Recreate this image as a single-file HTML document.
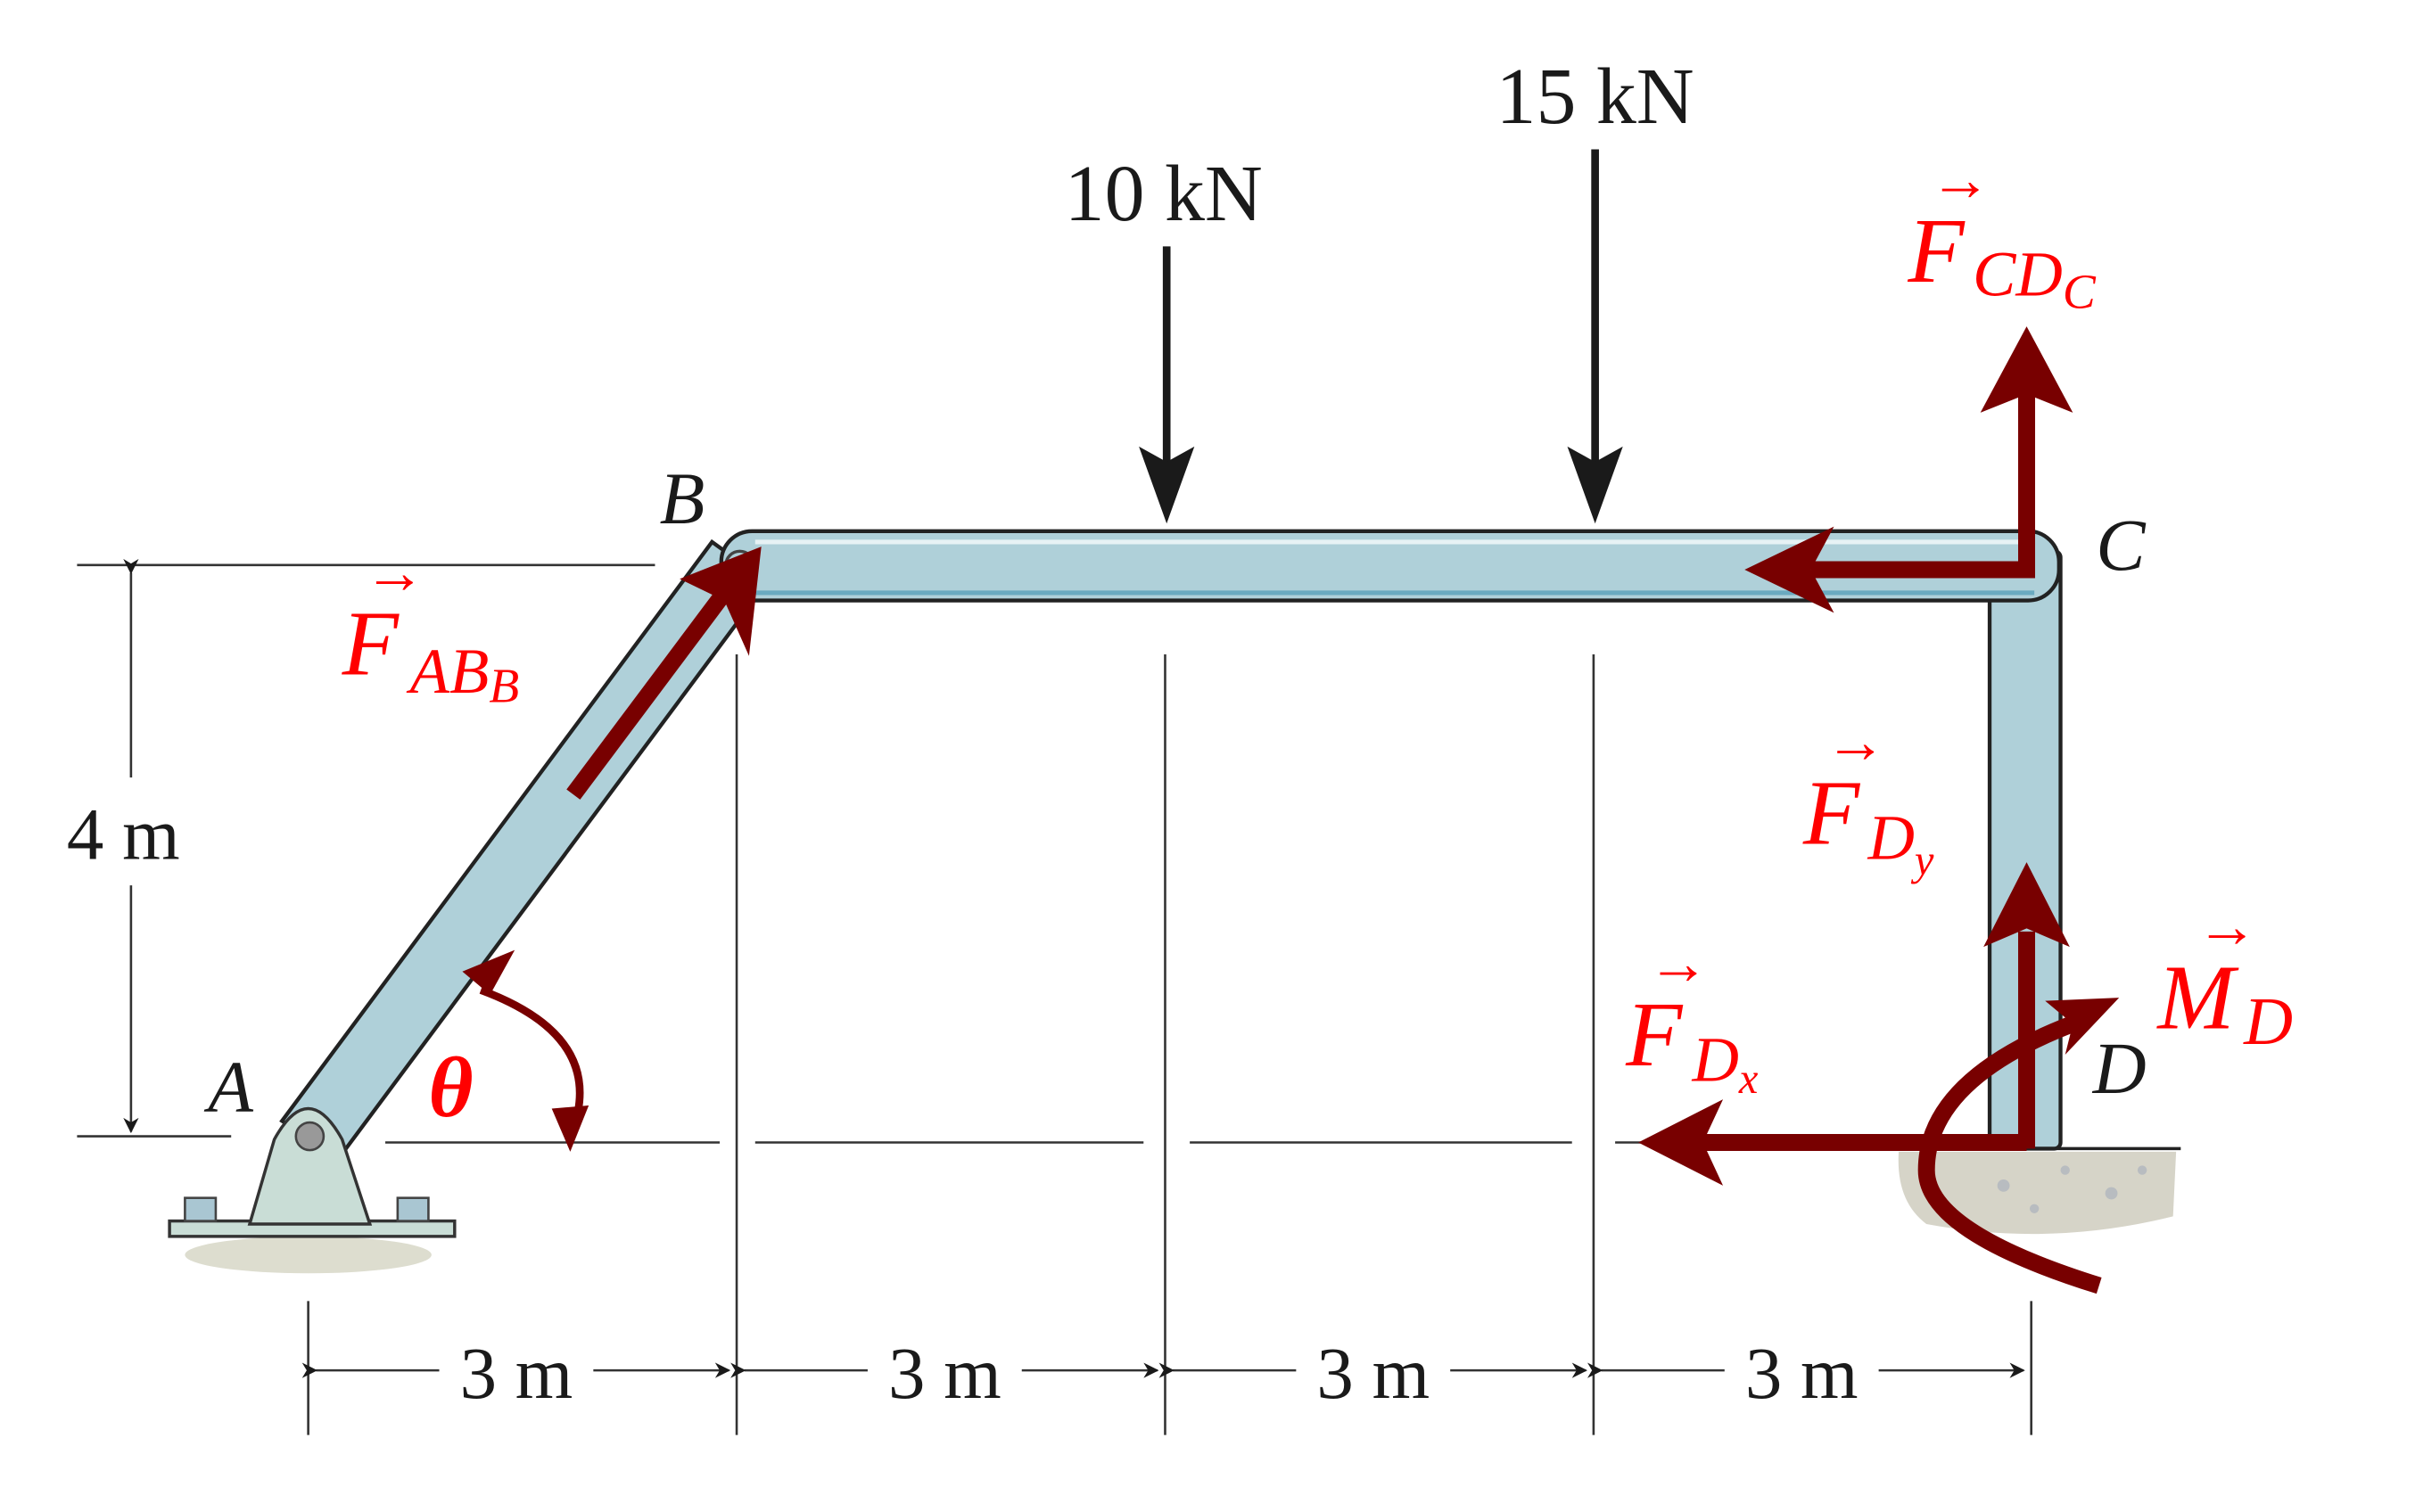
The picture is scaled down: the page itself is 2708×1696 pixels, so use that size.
<!DOCTYPE html>
<html><head><meta charset="utf-8"><style>
html,body{margin:0;padding:0;background:#fff;width:2708px;height:1696px;overflow:hidden}
svg{display:block}
text{font-family:"Liberation Serif",serif}
.k{fill:#1a1a1a}
.r{fill:#ff0000;font-style:italic}
</style></head><body>
<svg width="2708" height="1696" viewBox="0 0 1567 982" preserveAspectRatio="none" xmlns="http://www.w3.org/2000/svg">
<defs>
<marker id="ak" markerWidth="10" markerHeight="20" refX="9" refY="5" orient="auto" markerUnits="userSpaceOnUse" viewBox="0 0 10 10"><path d="M0,0 L10,5 L0,10 L3,5 Z" fill="#1a1a1a"/></marker>
</defs>
<rect width="1567" height="982" fill="#fff"/>
<ellipse cx="200" cy="815" rx="80" ry="12" fill="#ddddcf"/>
<path d="M1232,748 L1412,748 L1410,790 Q1330,810 1250,795 Q1230,780 1232,748 Z" fill="#d6d4c8"/>
<g fill="#b8bcc0"><circle cx="1300" cy="770" r="4"/><circle cx="1340" cy="760" r="3"/><circle cx="1370" cy="775" r="4"/><circle cx="1390" cy="760" r="3"/><circle cx="1320" cy="785" r="3"/></g>
<line x1="1230" y1="746" x2="1415" y2="746" stroke="#222" stroke-width="2"/>
<g stroke="#333" stroke-width="1.5" fill="none">
<line x1="50" y1="367" x2="425" y2="367"/>
<line x1="50" y1="738" x2="150" y2="738"/>
<line x1="85" y1="372" x2="85" y2="505" marker-start="url(#ak)"/>
<line x1="85" y1="575" x2="85" y2="735" marker-end="url(#ak)"/>
<line x1="250" y1="742" x2="467" y2="742"/>
<line x1="490" y1="742" x2="742" y2="742"/>
<line x1="772" y1="742" x2="1020" y2="742"/>
<line x1="1048" y1="742" x2="1070" y2="742"/>
<line x1="478" y1="425" x2="478" y2="932"/>
<line x1="756" y1="425" x2="756" y2="932"/>
<line x1="1034" y1="425" x2="1034" y2="932"/>
<line x1="200" y1="845" x2="200" y2="932"/>
<line x1="1318" y1="845" x2="1318" y2="932"/>
<line x1="205" y1="890" x2="285" y2="890" marker-start="url(#ak)"/>
<line x1="385" y1="890" x2="473" y2="890" marker-end="url(#ak)"/>
<line x1="483" y1="890" x2="563" y2="890" marker-start="url(#ak)"/>
<line x1="663" y1="890" x2="751" y2="890" marker-end="url(#ak)"/>
<line x1="761" y1="890" x2="841" y2="890" marker-start="url(#ak)"/>
<line x1="941" y1="890" x2="1029" y2="890" marker-end="url(#ak)"/>
<line x1="1039" y1="890" x2="1119" y2="890" marker-start="url(#ak)"/>
<line x1="1219" y1="890" x2="1313" y2="890" marker-end="url(#ak)"/>
</g>
<g class="k" font-size="48">
<text x="80" y="558" text-anchor="middle">4 m</text>
<text x="335" y="908" text-anchor="middle">3 m</text>
<text x="613" y="908" text-anchor="middle">3 m</text>
<text x="891" y="908" text-anchor="middle">3 m</text>
<text x="1169" y="908" text-anchor="middle">3 m</text>
<text x="755" y="143" text-anchor="middle" font-size="52">10 kN</text>
<text x="1035" y="80" text-anchor="middle" font-size="52">15 kN</text>
</g>
<rect x="110" y="793" width="185" height="10" fill="#c9ddd6" stroke="#333" stroke-width="2"/>
<g fill="#a9c6d2" stroke="#444" stroke-width="1.5"><rect x="120" y="778" width="20" height="15"/><rect x="258" y="778" width="20" height="15"/></g>
<g stroke="#222" stroke-width="2.5" fill="#afd0d9">
<path d="M183,728 L462,352 L498,378 L220,752 Z"/>
<rect x="1291" y="358" width="46" height="388" rx="4"/>
<rect x="468" y="345" width="868" height="45" rx="20"/>
</g>
<line x1="490" y1="352" x2="1320" y2="352" stroke="#e6f2f5" stroke-width="3"/>
<line x1="490" y1="385" x2="1320" y2="385" stroke="#6aaac0" stroke-width="3"/>
<path d="M162,795 L178,740 Q200,700 222,740 L240,795 Z" fill="#c9ddd6" stroke="#333" stroke-width="2"/>
<circle cx="201" cy="738" r="9" fill="#999" stroke="#444" stroke-width="1.5"/>
<circle cx="480" cy="367" r="9" fill="none" stroke="#444" stroke-width="2"/>
<g stroke="#1a1a1a" stroke-width="5"><line x1="757" y1="160" x2="757" y2="305"/><line x1="1035" y1="97" x2="1035" y2="305"/></g>
<g fill="#1a1a1a"><path d="M739,290 L757,340 L775,290 L757,300 Z"/><path d="M1017,290 L1035,340 L1053,290 L1035,300 Z"/></g>
<g class="k" font-size="48" font-style="italic">
<text x="428" y="340">B</text>
<text x="1360" y="370">C</text>
<text x="135" y="722">A</text>
<text x="1358" y="710">D</text>
</g>
<g stroke="#780000" stroke-width="11" fill="none">
<line x1="372" y1="516" x2="470" y2="385"/>
<path d="M1175,370 L1315,370 L1315,255"/>
<path d="M1315,746 L1315,605"/>
<path d="M1315,742 L1100,742"/>
<path d="M1362,835 Q1250,800 1250,760 Q1250,700 1350,663"/>
<path d="M312,643 Q385,670 375,722" stroke-width="5"/>
</g>
<g fill="#780000">
<path d="M494,355 L486,426 L470,390 L441,376 Z"/>
<path d="M1132,370 L1190,342 L1175,370 L1190,398 Z"/>
<path d="M1315,212 L1345,268 L1315,256 L1285,268 Z"/>
<path d="M1315,560 L1343,615 L1315,603 L1287,615 Z"/>
<path d="M1063,742 L1118,714 L1105,742 L1118,770 Z"/>
<path d="M1375,648 L1327,650 L1345,665 L1340,685 Z"/>
<path d="M300,631 L334,617 L318,646 Z"/>
<path d="M370,748 L358,720 L382,718 Z"/>
</g>
<g class="r">
<text x="222" y="438" font-size="60">F</text><text x="236" y="385" font-size="40" font-style="normal">→</text>
<text x="266" y="450" font-size="42">AB<tspan font-size="32" dy="6">B</tspan></text>
<text x="1238" y="183" font-size="60">F</text><text x="1252" y="130" font-size="40" font-style="normal">→</text>
<text x="1280" y="192" font-size="42">CD<tspan font-size="32" dy="8">C</tspan></text>
<text x="1170" y="548" font-size="60">F</text><text x="1184" y="495" font-size="40" font-style="normal">→</text>
<text x="1212" y="558" font-size="42">D<tspan font-size="28" dy="10">y</tspan></text>
<text x="1055" y="692" font-size="60">F</text><text x="1069" y="639" font-size="40" font-style="normal">→</text>
<text x="1098" y="702" font-size="42">D<tspan font-size="28" dy="8">x</tspan></text>
<text x="1400" y="668" font-size="60">M</text><text x="1425" y="615" font-size="40" font-style="normal">→</text>
<text x="1456" y="678" font-size="44">D</text>
<text x="278" y="725" font-size="56" font-weight="bold">θ</text>
</g>
</svg>
</body></html>
